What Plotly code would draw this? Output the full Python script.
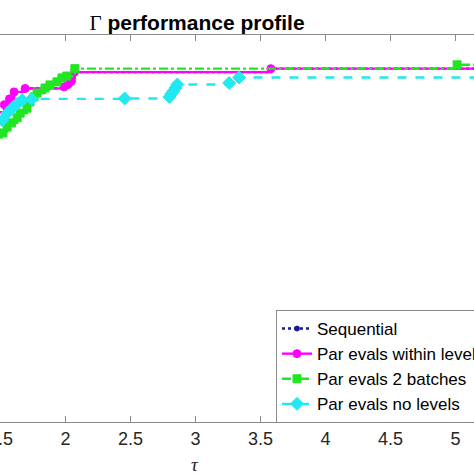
import plotly.graph_objects as go

# ---- data (tau, rho) ----
seq_tau = [1.45, 1.53, 1.57, 1.605, 1.69, 1.99, 2.02, 2.045, 2.07, 3.58, 5.30]
seq_rho = [0.800, 0.820, 0.835, 0.853, 0.862, 0.866, 0.872, 0.880, 0.904, 0.913, 0.913]

lev_tau = [1.45, 1.53, 1.57, 1.605, 1.69, 1.99, 2.02, 2.045, 2.07, 3.58, 5.30]
lev_rho = [0.800, 0.820, 0.835, 0.853, 0.862, 0.866, 0.872, 0.880, 0.904, 0.913, 0.913]

bat_tau = [1.45, 1.52, 1.552, 1.586, 1.629, 1.652, 1.705, 1.728, 1.759, 1.782,
           1.843, 1.881, 1.935, 1.973, 2.011, 2.073, 5.013, 5.30]
bat_rho = [0.735, 0.747, 0.762, 0.773, 0.786, 0.798, 0.811, 0.827, 0.840, 0.850,
           0.863, 0.871, 0.879, 0.889, 0.894, 0.913, 0.923, 0.923]

nol_tau = [1.45, 1.514, 1.552, 1.59, 1.629, 1.667, 1.74, 2.456, 2.80, 2.815,
           2.83, 2.846, 2.861, 3.26, 3.336, 5.30]
nol_rho = [0.770, 0.780, 0.798, 0.811, 0.822, 0.832, 0.835, 0.836, 0.840, 0.848,
           0.855, 0.863, 0.872, 0.876, 0.890, 0.890]

tick_vals = [1.5, 2, 2.5, 3, 3.5, 4, 4.5, 5]
tick_text = ["1.5", "2", "2.5", "3", "3.5", "4", "4.5", "5"]

series = [
    ("Sequential", seq_tau, seq_rho, "#1a1a9c", "dot", "circle", 5),
    ("Par evals within levels", lev_tau, lev_rho, "#ff00ff", "solid", "circle", 8),
    ("Par evals 2 batches", bat_tau, bat_rho, "#22e622", "dashdot", "square", 8),
    ("Par evals no levels", nol_tau, nol_rho, "#22e8f0", "dash", "diamond", 10),
]

fig = go.Figure()
for name, xs, ys, col, dash, sym, ms in series:
    fig.add_trace(go.Scatter(
        x=xs, y=ys, name=name, mode="lines+markers",
        line=dict(color=col, width=2.4, dash=dash, shape="hv"),
        marker=dict(symbol=sym, size=ms, color=col, line=dict(color=col, width=1)),
    ))

axis_col = "#8a8a8a"
fig.update_layout(
    width=474, height=474,
    margin=dict(l=0, r=0, t=0, b=0, autoexpand=False),
    paper_bgcolor="white", plot_bgcolor="white",
    font=dict(family="Arial, Liberation Sans, sans-serif", color="#262626"),
    title=dict(
        text='<span style="font-family:Liberation Serif;font-weight:normal">Γ</span> <b>performance profile</b>',
        x=197 / 474, xanchor="center", xref="paper",
        y=1 - 23 / 474, yanchor="middle", yref="paper",
        font=dict(size=21, color="black", family="Arial, Liberation Sans, sans-serif"),
    ),
    xaxis=dict(
        range=[1.497, 5.143], domain=[0, 1],
        tickmode="array", tickvals=tick_vals, ticktext=tick_text,
        ticks="inside", ticklen=6, tickwidth=1, tickcolor=axis_col,
        showline=True, linecolor=axis_col, linewidth=1, mirror="allticks",
        showgrid=False, zeroline=False, ticklabeloverflow="allow",
        tickfont=dict(size=18, color="#262626"),
    ),
    yaxis=dict(range=[0, 1], domain=[(474 - 422) / 474, (474 - 35) / 474],
               visible=False),
    legend=dict(
        x=276 / 474, y=(474 - 310) / 474, xanchor="left", yanchor="top",
        bgcolor="white", bordercolor=axis_col, borderwidth=1,
        font=dict(size=17, color="black"), tracegroupgap=0, itemwidth=30,
    ),
    showlegend=True,
)
fig.add_annotation(
    x=3, xref="x", y=-3 / 474, yref="paper",
    text="<i>τ</i>", showarrow=False, yanchor="bottom",
    font=dict(size=19, family="Liberation Serif, serif", color="#262626"),
)

fig.write_html("out.html")
